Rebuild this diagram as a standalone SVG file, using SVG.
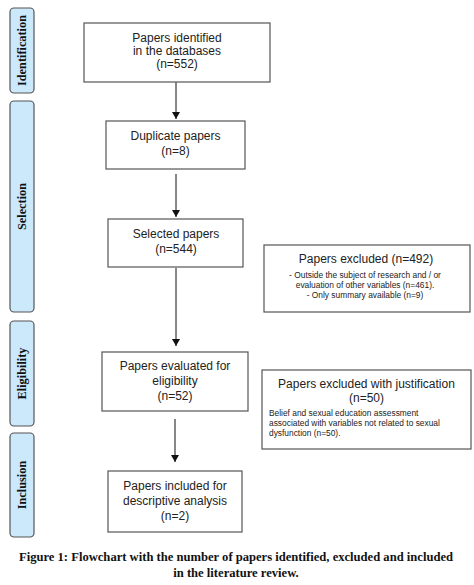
<svg xmlns="http://www.w3.org/2000/svg" width="474" height="585" viewBox="0 0 474 585">
<defs>
<marker id="ah" markerWidth="8" markerHeight="8" refX="7" refY="4" orient="auto" markerUnits="userSpaceOnUse">
<path d="M0,0 L7,4 L0,8 Z" fill="#111"/>
</marker>
<style>
.stage{fill:#cce8fb;stroke:#555;stroke-width:1.2}
.stxt{font-family:"Liberation Serif",serif;font-weight:bold;font-size:12.3px;fill:#111;text-anchor:middle}
.box{fill:#fff;stroke:#555;stroke-width:1.2}
.t{font-family:"Liberation Sans",Arial,sans-serif;font-size:12px;fill:#222;text-anchor:middle}
.ts{font-family:"Liberation Sans",Arial,sans-serif;font-size:8.4px;fill:#222}
.edge{stroke:#111;stroke-width:1;fill:none}
.cap{font-family:"Liberation Serif",serif;font-weight:bold;font-size:12.6px;fill:#111;text-anchor:middle}
</style>
</defs>
<rect width="474" height="585" fill="#fff"/>

<g id="stage-identification">
<rect class="stage" x="10" y="8" width="24" height="85" rx="4"/>
<text class="stxt" transform="translate(26,50.5) rotate(-90)">Identification</text>
</g>
<g id="stage-selection">
<rect class="stage" x="10" y="101" width="24" height="211" rx="4"/>
<text class="stxt" transform="translate(26,206.5) rotate(-90)">Selection</text>
</g>
<g id="stage-eligibility">
<rect class="stage" x="10" y="321" width="24" height="105" rx="4"/>
<text class="stxt" transform="translate(26,373.5) rotate(-90)">Eligibility</text>
</g>
<g id="stage-inclusion">
<rect class="stage" x="10" y="433" width="24" height="104" rx="4"/>
<text class="stxt" transform="translate(26,485) rotate(-90)">Inclusion</text>
</g>

<g id="connectors">
<line class="edge" x1="176" y1="82" x2="176" y2="119" marker-end="url(#ah)"/>
<line class="edge" x1="176" y1="174" x2="176" y2="217" marker-end="url(#ah)"/>
<line class="edge" x1="176" y1="268" x2="176" y2="346" marker-end="url(#ah)"/>
<line class="edge" x1="175" y1="419" x2="175" y2="462" marker-end="url(#ah)"/>
</g>

<g id="n1">
<rect class="box" x="84" y="23" width="186" height="59"/>
<text class="t" x="177" y="42">Papers identified</text>
<text class="t" x="177" y="55">in the databases</text>
<text class="t" x="177" y="68">(n=552)</text>
</g>
<g id="n2">
<rect class="box" x="106" y="121" width="139" height="48"/>
<text class="t" x="175.5" y="140">Duplicate papers</text>
<text class="t" x="175.5" y="155">(n=8)</text>
</g>
<g id="n3">
<rect class="box" x="108" y="219" width="135" height="48"/>
<text class="t" x="176" y="238">Selected papers</text>
<text class="t" x="176" y="253">(n=544)</text>
</g>
<g id="n4">
<rect class="box" x="102" y="352" width="146" height="59"/>
<text class="t" x="175" y="370">Papers evaluated for</text>
<text class="t" x="175" y="385">eligibility</text>
<text class="t" x="175" y="400">(n=52)</text>
</g>
<g id="n5">
<rect class="box" x="108" y="471" width="134" height="61"/>
<text class="t" x="175" y="490">Papers included for</text>
<text class="t" x="175" y="505">descriptive analysis</text>
<text class="t" x="175" y="520">(n=2)</text>
</g>
<g id="excl1">
<rect class="box" x="264" y="245" width="206" height="67"/>
<text class="t" x="366" y="263">Papers excluded (n=492)</text>
<text class="ts" x="365" y="278" text-anchor="middle">- Outside the subject of research and / or</text>
<text class="ts" x="365" y="288" text-anchor="middle">evaluation of other variables (n=461).</text>
<text class="ts" x="365" y="298" text-anchor="middle">- Only summary available (n=9)</text>
</g>
<g id="excl2">
<rect class="box" x="262" y="370" width="209" height="79"/>
<text class="t" x="366.5" y="388">Papers excluded with justification</text>
<text class="t" x="366.5" y="402">(n=50)</text>
<text class="ts" x="269" y="416">Belief and sexual education assessment</text>
<text class="ts" x="269" y="426">associated with variables not related to sexual</text>
<text class="ts" x="269" y="436">dysfunction (n=50).</text>
</g>

<g id="caption">
<text class="cap" x="236" y="561">Figure 1: Flowchart with the number of papers identified, excluded and included</text>
<text class="cap" x="236" y="577">in the literature review.</text>
</g>
</svg>
